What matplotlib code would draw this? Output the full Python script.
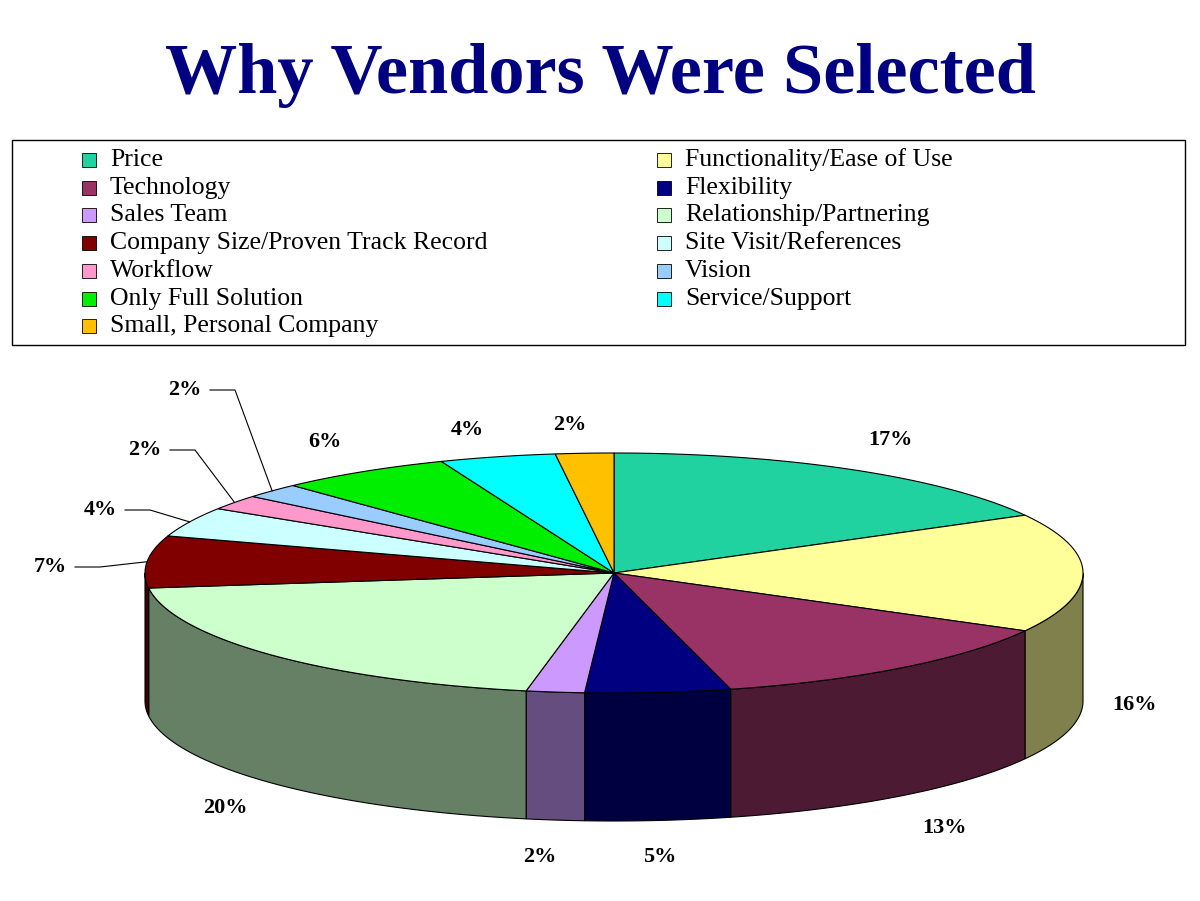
import numpy as np
import matplotlib
matplotlib.use("Agg")
import matplotlib.pyplot as plt
from matplotlib.patches import Polygon, Rectangle
from matplotlib.colors import to_rgb

# 3D-looking pie of vendor selection reasons (clockwise from 12 o'clock)
labels = ["Price", "Functionality/Ease of Use", "Technology", "Flexibility", "Sales Team",
          "Relationship/Partnering", "Company Size/Proven Track Record", "Site Visit/References",
          "Workflow", "Vision", "Only Full Solution", "Service/Support", "Small, Personal Company"]
values = [17, 16, 13, 5, 2, 20, 7, 4, 2, 2, 6, 4, 2]
colors = ["#20d2a0", "#ffff99", "#993366", "#000080", "#cc99ff", "#ccffcc", "#800000",
          "#ccffff", "#ff99cc", "#99ccff", "#00ee00", "#00ffff", "#ffc000"]
# where each percent label sits (pixels), and whether it gets a leader line
label_pos = [(890, 440), (1135, 705), (945, 828), (660, 857), (540, 857), (225, 808),
             (50, 567), (100, 510), (145, 450), (185, 390), (325, 442), (467, 430), (570, 425)]
leader = [False] * 6 + [True] * 4 + [False] * 3

cx, cy, rx, ry, depth = 614, 573, 469, 120, 128
serif = ["Liberation Serif", "DejaVu Serif"]

def pt(t, dy=0):
  return (cx + rx * np.sin(t), cy - ry * np.cos(t) + dy)

fig = plt.figure(figsize=(12, 9.01), dpi=100)
ax = fig.add_axes([0, 0, 1, 1])
ax.set_xlim(0, 1200)
ax.set_ylim(901, 0)
ax.axis("off")

ax.text(600, 75, "Why Vendors Were Selected", ha="center", va="center",
        fontsize=52, fontweight="bold", color="#000080", family=serif)

angles = np.deg2rad(np.concatenate([[0], np.cumsum(values)]) * 3.6)

# side walls on the front half (90..270 deg)
for i, c in enumerate(colors):
  a0, a1 = max(angles[i], np.pi / 2), min(angles[i + 1], 1.5 * np.pi)
  if a1 <= a0: continue
  ts = np.linspace(a0, a1, 60)
  top = [pt(t) for t in ts]
  bot = [pt(t, depth) for t in ts[::-1]]
  dark = tuple(v * 0.5 for v in to_rgb(c))
  ax.add_patch(Polygon(top + bot, closed=True, fc=dark, ec="black", lw=0.8))

# top wedges
for i, c in enumerate(colors):
  ts = np.linspace(angles[i], angles[i + 1], 60)
  ax.add_patch(Polygon([(cx, cy)] + [pt(t) for t in ts], closed=True, fc=c, ec="black", lw=0.8))

# percent labels
for i, v in enumerate(values):
  x, y = label_pos[i]
  ax.text(x, y, f"{v}%", ha="center", va="center", fontsize=16, fontweight="bold", family=serif)
  if leader[i]:
    mx, my = pt((angles[i] + angles[i + 1]) / 2)
    ax.plot([x + 25, x + 50, mx], [y, y, my], color="black", lw=0.8)

# legend box, drawn by hand, row-major two columns
ax.add_patch(Rectangle((12, 140), 1173, 205, fc="white", ec="black", lw=1.0))
for k, (name, c) in enumerate(zip(labels, colors)):
  row, col = k // 2, k % 2
  x = 82 if col == 0 else 657
  y = 160 + row * 27.7
  ax.add_patch(Rectangle((x, y - 7), 14, 14, fc=c, ec="black", lw=0.6))
  ax.text(x + 28, y, name, ha="left", va="center", fontsize=18.5, family=serif)

fig.savefig("out.png", dpi=100)
